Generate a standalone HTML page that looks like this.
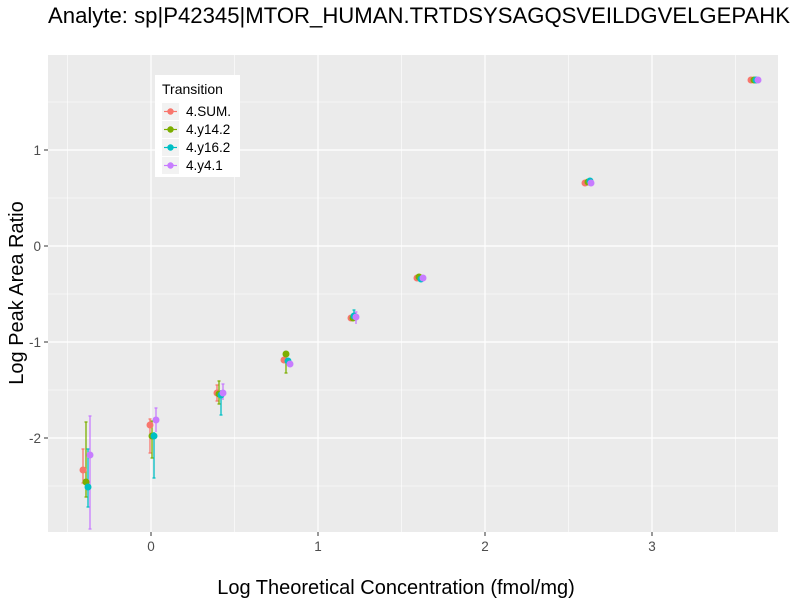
<!DOCTYPE html><html><head><style>body{margin:0;background:#fff}svg{display:block}text{font-family:"Liberation Sans",sans-serif}</style></head><body>
<svg width="800" height="600" xmlns="http://www.w3.org/2000/svg">
<rect width="800" height="600" fill="#fff"/>
<text x="48" y="23" font-size="22" fill="#000" textLength="742" lengthAdjust="spacingAndGlyphs">Analyte: sp|P42345|MTOR_HUMAN.TRTDSYSAGQSVEILDGVELGEPAHK</text>
<rect x="48" y="55" width="730" height="477" fill="#EBEBEB"/>
<g stroke="#fff" stroke-width="0.6">
<line x1="67.5" y1="55" x2="67.5" y2="532"/><line x1="234.5" y1="55" x2="234.5" y2="532"/><line x1="401.5" y1="55" x2="401.5" y2="532"/><line x1="568.5" y1="55" x2="568.5" y2="532"/><line x1="735.5" y1="55" x2="735.5" y2="532"/>
<line x1="48" y1="102" x2="778" y2="102"/><line x1="48" y1="198" x2="778" y2="198"/><line x1="48" y1="294" x2="778" y2="294"/><line x1="48" y1="390" x2="778" y2="390"/><line x1="48" y1="486" x2="778" y2="486"/>
</g>
<g stroke="#fff" stroke-width="1.2">
<line x1="151" y1="55" x2="151" y2="532"/><line x1="318" y1="55" x2="318" y2="532"/><line x1="485" y1="55" x2="485" y2="532"/><line x1="652" y1="55" x2="652" y2="532"/>
<line x1="48" y1="150" x2="778" y2="150"/><line x1="48" y1="246" x2="778" y2="246"/><line x1="48" y1="342" x2="778" y2="342"/><line x1="48" y1="438" x2="778" y2="438"/>
</g>
<g stroke-width="1.3">
<g stroke="#F8766D"><path d="M83 449V483M81.5 449H84.5M81.5 483H84.5M150 419V453M148.5 419H151.5M148.5 453H151.5M217 385V401M215.5 385H218.5M215.5 401H218.5"/></g>
<g stroke="#7CAE00"><path d="M86 422V497M84.5 422H87.5M84.5 497H87.5M152 421V458M150.5 421H153.5M150.5 458H153.5M219 381V404M217.5 381H220.5M217.5 404H220.5M286 352V373M284.5 373H287.5"/></g>
<g stroke="#00BFC4"><path d="M88 449V507M86.5 449H89.5M86.5 507H89.5M154 432V478M152.5 478H155.5M221 390V415M219.5 415H222.5M354 310V320M352.5 310H355.5"/></g>
<g stroke="#C77CFF"><path d="M90 416V529M88.5 416H91.5M88.5 529H91.5M156 408V432M154.5 408H157.5M223 384V400M221.5 384H224.5M356 312V324M354.5 312H357.5"/></g>
</g>
<g fill="#F8766D"><circle cx="83" cy="470" r="3.5"/><circle cx="150" cy="425" r="3.5"/><circle cx="217" cy="393" r="3.5"/><circle cx="284" cy="360" r="3.5"/><circle cx="351" cy="318" r="3.5"/><circle cx="417" cy="278" r="3.5"/><circle cx="585" cy="183" r="3.5"/><circle cx="751" cy="80" r="3.5"/></g>
<g fill="#7CAE00"><circle cx="86" cy="482" r="3.5"/><circle cx="152" cy="436" r="3.5"/><circle cx="219" cy="394" r="3.5"/><circle cx="286" cy="354" r="3.5"/><circle cx="353" cy="318" r="3.5"/><circle cx="419" cy="277" r="3.5"/><circle cx="588" cy="182" r="3.5"/><circle cx="754" cy="80" r="3.5"/></g>
<g fill="#00BFC4"><circle cx="88" cy="487" r="3.5"/><circle cx="154" cy="436" r="3.5"/><circle cx="221" cy="395" r="3.5"/><circle cx="288" cy="361" r="3.5"/><circle cx="354" cy="316" r="3.5"/><circle cx="421" cy="279" r="3.5"/><circle cx="590" cy="181" r="3.5"/><circle cx="756" cy="80" r="3.5"/></g>
<g fill="#C77CFF"><circle cx="90" cy="455" r="3.5"/><circle cx="156" cy="420" r="3.5"/><circle cx="223" cy="393" r="3.5"/><circle cx="290" cy="364" r="3.5"/><circle cx="356" cy="317" r="3.5"/><circle cx="423" cy="278" r="3.5"/><circle cx="591" cy="183" r="3.5"/><circle cx="758" cy="80" r="3.5"/></g>
<g stroke="#333" stroke-width="1"><line x1="151" y1="532" x2="151" y2="536"/><line x1="318" y1="532" x2="318" y2="536"/><line x1="485" y1="532" x2="485" y2="536"/><line x1="652" y1="532" x2="652" y2="536"/>
<line x1="44" y1="150" x2="48" y2="150"/><line x1="44" y1="246" x2="48" y2="246"/><line x1="44" y1="342" x2="48" y2="342"/><line x1="44" y1="438" x2="48" y2="438"/></g>
<g font-size="13.5" fill="#4D4D4D" text-anchor="middle"><text x="151" y="551">0</text><text x="318" y="551">1</text><text x="485" y="551">2</text><text x="652" y="551">3</text></g>
<g font-size="13.5" fill="#4D4D4D" text-anchor="end"><text x="41" y="155">1</text><text x="41" y="251">0</text><text x="41" y="347">-1</text><text x="41" y="443">-2</text></g>
<text x="396" y="594" font-size="20" text-anchor="middle" fill="#000">Log Theoretical Concentration (fmol/mg)</text>
<text transform="translate(23,293) rotate(-90)" font-size="20" text-anchor="middle" fill="#000">Log Peak Area Ratio</text>
<rect x="155" y="75" width="85" height="102" fill="#fff"/>
<text x="162" y="94" font-size="14" fill="#000">Transition</text>
<g font-size="13.5" fill="#000"><text x="186" y="116">4.SUM.</text><text x="186" y="134">4.y14.2</text><text x="186" y="152">4.y16.2</text><text x="186" y="170">4.y4.1</text></g>
<rect x="162" y="103" width="17" height="17" fill="#F2F2F2"/><rect x="162" y="121" width="17" height="17" fill="#F2F2F2"/><rect x="162" y="139" width="17" height="17" fill="#F2F2F2"/><rect x="162" y="157" width="17" height="17" fill="#F2F2F2"/>
<g stroke-width="1.2"><line x1="164" y1="111.5" x2="177" y2="111.5" stroke="#F8766D"/><line x1="164" y1="129.5" x2="177" y2="129.5" stroke="#7CAE00"/><line x1="164" y1="147.5" x2="177" y2="147.5" stroke="#00BFC4"/><line x1="164" y1="165.5" x2="177" y2="165.5" stroke="#C77CFF"/></g>
<circle cx="170.5" cy="111.5" r="3.2" fill="#F8766D"/><circle cx="170.5" cy="129.5" r="3.2" fill="#7CAE00"/><circle cx="170.5" cy="147.5" r="3.2" fill="#00BFC4"/><circle cx="170.5" cy="165.5" r="3.2" fill="#C77CFF"/>
</svg></body></html>
